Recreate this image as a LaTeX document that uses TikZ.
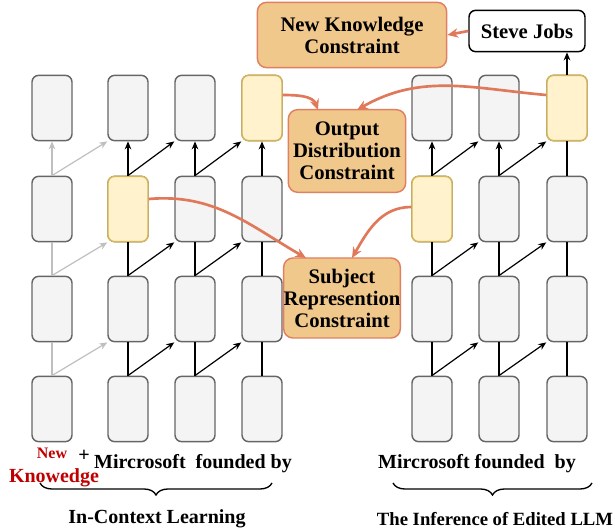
\documentclass[tikz,border=0pt]{standalone}
\usepackage{fontspec}
\setmainfont{Liberation Serif}
\usetikzlibrary{arrows.meta,decorations.pathreplacing}
\definecolor{gfill}{HTML}{F4F4F4}\definecolor{gdraw}{HTML}{666666}
\definecolor{yfill}{HTML}{FFF2CC}\definecolor{ydraw}{HTML}{D6B656}
\definecolor{ofill}{HTML}{F1C88C}\definecolor{odraw}{HTML}{E08060}
\definecolor{oarr}{HTML}{E0785A}\definecolor{nred}{HTML}{C00000}
\begin{document}
\begin{tikzpicture}[x=0.75pt,y=-0.75pt,
 cell/.style={draw=gdraw,fill=gfill,line width=1.1pt,rounded corners=5pt,minimum width=30pt,minimum height=49pt,inner sep=0pt},
 ycell/.style={cell,draw=ydraw,fill=yfill},
 con/.style={draw=odraw,fill=ofill,line width=1.1pt,rounded corners=7pt,align=center,font=\bfseries\fontsize{15.5}{16.5}\selectfont,inner sep=0pt},
 ln/.style={line width=0.9pt},
 ar/.style={ln,-{Stealth[length=6pt,width=5pt]}},
 gl/.style={ln,draw=black!25},
 ga/.style={ar,draw=black!25},
 oa/.style={line width=2pt,draw=oarr,-{Stealth[length=8pt,width=7pt]}},
 br/.style={line width=1pt,decorate,decoration={brace,mirror,amplitude=9pt}},
 lbl/.style={font=\bfseries\fontsize{15}{17}\selectfont}]
\useasboundingbox (0,0) rectangle (615,531);
% left grid
\foreach \c/\x in {1/52,2/128,3/195,4/262}{
 \foreach \r/\y in {1/108,2/209,3/309,4/409}{
  \node[cell] (L\c\r) at (\x,\y) {};}}
\node[ycell] (L22) at (128,209) {};
\node[ycell] (L41) at (262,108) {};
% right grid
\foreach \c/\x in {1/432,2/499,3/567}{
 \foreach \r/\y in {1/108,2/209,3/309,4/409}{
  \node[cell] (R\c\r) at (\x,\y) {};}}
\node[ycell] (R12) at (432,209) {};
\node[ycell] (R31) at (567,108) {};
% left column gray
\draw[gl] (L14.north) -- (L13.south);
\draw[gl] (L13.north) -- (L12.south);
\draw[ga] (L12.north) -- (L11.south);
\foreach \r/\s in {4/3,3/2,2/1}{\draw[ga] (L1\r.north) -- (L2\s.south west);}
% black connectors left
\foreach \c/\n in {2/3,3/4}{
 \foreach \r/\s in {4/3,3/2,2/1}{\draw[ar] (L\c\r.north) -- (L\n\s.south west);}}
\foreach \c in {2,3,4}{
 \draw[ln] (L\c4.north) -- (L\c3.south);
 \draw[ln] (L\c3.north) -- (L\c2.south);
 \draw[ar] (L\c2.north) -- (L\c1.south);}
% right
\foreach \c/\n in {1/2,2/3}{
 \foreach \r/\s in {4/3,3/2,2/1}{\draw[ar] (R\c\r.north) -- (R\n\s.south west);}}
\foreach \c in {1,2}{
 \draw[ln] (R\c4.north) -- (R\c3.south);
 \draw[ln] (R\c3.north) -- (R\c2.south);
 \draw[ar] (R\c2.north) -- (R\c1.south);}
\draw[ln] (R34.north) -- (R33.south);
\draw[ln] (R33.north) -- (R32.south);
\draw[ln] (R32.north) -- (R31.south);
% constraint boxes
\node[con,minimum width=142pt,minimum height=49pt] (NK) at (352,35) {New Knowledge\\Constraint};
\node[draw,line width=1.1pt,rounded corners=5pt,minimum width=87pt,minimum height=31pt,font=\bfseries\fontsize{15.5}{17}\selectfont] (SJ) at (527,31) {Steve Jobs};
\node[con,minimum width=88pt,minimum height=62pt] (OD) at (347,151) {Output\\Distribution\\Constraint};
\node[con,minimum width=83pt,minimum height=60pt] (SR) at (342,298) {Subject\\Represention\\Constraint};
\draw[ar] (R31.north) -- (R31.north|-SJ.south);
\draw[oa] (SJ.west) -- (NK.east);
\draw[oa] (L41.east|-0,95) to[out=0,in=110] (318,110);
\draw[oa] (R31.west|-0,95) to[out=175,in=30] (357,110);
\draw[oa] (L22.east|-0,199) to[out=5,in=150] (306,258);
\draw[oa] (R12.west|-0,207) to[out=180,in=60] (352,258);
% texts
\node[text=nred,font=\bfseries\fontsize{12}{14}\selectfont] (nw) at (52,453) {New};
\node[lbl,text=nred] (kn) at (54,478) {Knowedge};
\node[lbl] (pl) at (84,456) {+};
\node[lbl] (t1) at (193,464) {Mircrosoft\ \ founded by};
\node[lbl] (t2) at (477,464) {Mircrosoft founded\ \ by};
\draw[br] (40,483) -- (272,483);
\draw[br] (393,483) -- (592,483);
\node[lbl] (b1) at (157,519) {In-Context Learning};
\node[lbl,font=\bfseries\fontsize{14}{16}\selectfont] (b2) at (495,519) {The Inference of Edited LLM};
\end{tikzpicture}
\end{document}
